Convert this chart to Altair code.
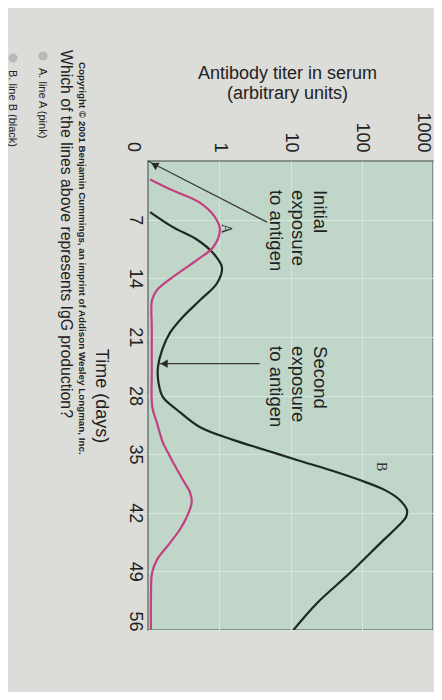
import altair as alt
import pandas as pd

# ---- data (time in days, titer in arbitrary units, log) ----
time_a = [2.2, 3.5, 5.0, 6.7, 8.2, 10.3, 11.8, 13.9, 15.4, 16.6, 20.0, 25.0, 29.4,
          31.3, 33.5, 35.3, 38.1, 39.6, 40.8, 42.5, 44.0, 45.6, 47.6, 49.2, 52.0, 56.0]
titer_a = [0.107, 0.22, 0.54, 0.87, 1.02, 0.82, 0.49, 0.22, 0.134, 0.114, 0.113, 0.113, 0.115,
           0.134, 0.16, 0.204, 0.31, 0.39, 0.41, 0.35, 0.28, 0.204, 0.134, 0.114, 0.11, 0.11]

time_b = [6.1, 7.9, 9.4, 11.0, 12.7, 14.6, 16.6, 18.6, 20.5, 22.6, 24.6, 26.4, 28.2, 29.7,
          31.8, 33.3, 34.5, 35.7, 36.9, 38.1, 39.3, 40.5, 41.7, 42.5, 43.5, 45.3, 49.2, 52.8, 56.0]
titer_b = [0.107, 0.224, 0.49, 0.82, 1.09, 0.93, 0.54, 0.31, 0.204, 0.157, 0.138, 0.14, 0.162, 0.255,
           0.54, 1.56, 4.4, 12.3, 35.8, 94, 212, 344, 431, 418, 333, 200, 68, 23.5, 11]

time_ticks = [7, 14, 21, 28, 35, 42, 49, 56]
titer_ticks = [1, 10, 100, 1000]
origin_label = "0"

labels_ab = ["A", "B"]
label_time = [8.1, 36.5]
label_titer = [1.24, 186]

exposure_text = ["Initial\nexposure\nto antigen", "Second\nexposure\nto antigen"]
exposure_time = [3.46, 22.1]
exposure_titer = [21.4, 21.4]

arrow_time = [7.3, 24.2]
arrow_titer = [4.7, 3.7]
arrow_time_end = [0.0, 24.2]
arrow_titer_end = [0.1, 0.147]

question = "Which of the lines above represents IgG production?"
copyright_txt = "Copyright \u00a9 2001 Benjamin Cummings, an imprint of Addison Wesley Longman, Inc."
option_a = "A. line A (pink)"
option_b = "B. line B (black)"

FONT = "Liberation Sans"
W, H = 285, 469
INK = "#222222"

df_a = pd.DataFrame({"t": time_a, "titer": titer_a})
df_b = pd.DataFrame({"t": time_b, "titer": titer_b})
df_ab = pd.DataFrame({"t": label_time, "titer": label_titer, "label": labels_ab})
df_exp = pd.DataFrame({"t": exposure_time, "titer": exposure_titer, "label": exposure_text})
df_arr = pd.DataFrame({"t": arrow_time, "titer": arrow_titer,
                       "t2": arrow_time_end, "titer2": arrow_titer_end})

xscale = alt.Scale(type="log", domain=[0.1, 1000], nice=False)
yscale = alt.Scale(domain=[0, 56], reverse=True, nice=False, zero=False)

X = alt.X(
    "titer:Q", scale=xscale,
    axis=alt.Axis(
        orient="top", values=titer_ticks,
        labelExpr="format(datum.value, 'd')",
        labelAngle=90, labelAlign="right", labelBaseline="middle",
        labelPadding=9, labelFontSize=18, labelFont=FONT, labelColor=INK,
        labelOffset={"condition": {"test": "datum.value > 500", "value": -11}, "value": 0},
        labelFlush=False, labelOverlap=False, labelBound=False,
        ticks=False, tickSize=0, domain=False,
        grid=True, gridColor="#d5e6db", gridWidth=1,
        title=["Antibody titer in serum", "(arbitrary units)"],
        titleAngle=0, titleX=139, titleY=-83, titleAlign="center",
        titleBaseline="alphabetic", titleLineHeight=20, titleFontSize=18,
        titleFontWeight="normal", titleFont=FONT, titleColor=INK,
    ),
)
Y = alt.Y(
    "t:Q", scale=yscale,
    axis=alt.Axis(
        orient="left", values=time_ticks,
        labelAngle=90, labelAlign="center", labelBaseline="top",
        labelPadding=5, labelFontSize=18, labelFont=FONT, labelColor=INK,
        labelOffset={"condition": {"test": "datum.value > 55", "value": -9}, "value": 0},
        labelFlush=False, labelOverlap=False, labelBound=False,
        ticks=False, tickSize=0, domain=False,
        grid=True, gridColor="#d5e6db", gridWidth=1,
        title="Time (days)", titleAngle=90, titleX=-48, titleY=H / 2,
        titleAlign="center", titleBaseline="middle", titleFontSize=18,
        titleFontWeight="normal", titleFont=FONT, titleColor=INK,
    ),
)

line_b = alt.Chart(df_b).mark_line(
    color="#1f2823", strokeWidth=2.2, interpolate="catmull-rom", clip=True
).encode(x=X, y=Y, order="t:Q")

line_a = alt.Chart(df_a).mark_line(
    color="#c2417e", strokeWidth=2.2, interpolate="catmull-rom", clip=True
).encode(x=X, y=Y, order="t:Q")

arrows = alt.Chart(df_arr).mark_rule(color="#3a3a3a", strokeWidth=1.3).encode(
    x=X, y=Y, x2="titer2:Q", y2="t2:Q"
)

head1 = alt.Chart(pd.DataFrame({"t": [0.45], "titer": [0.123]})).mark_point(
    shape="triangle-up", filled=True, size=70, angle=298, color="#2a2a2a", opacity=1
).encode(x=X, y=Y)

head2 = alt.Chart(pd.DataFrame({"t": [24.2], "titer": [0.168]})).mark_point(
    shape="triangle-left", filled=True, size=70, color="#2a2a2a", opacity=1
).encode(x=X, y=Y)

exp_text = alt.Chart(df_exp).mark_text(
    angle=90, align="left", baseline="alphabetic", lineBreak="\n", lineHeight=22,
    fontSize=18.5, font=FONT, color=INK
).encode(x=X, y=Y, text="label:N")

ab_text = alt.Chart(df_ab).mark_text(
    angle=90, align="center", baseline="middle", fontSize=14,
    font="Liberation Serif", color="#333333"
).encode(x=X, y=Y, text="label:N")


def page_text(txt, px, py, size, weight="normal", font=FONT, align="left"):
    return alt.Chart(pd.DataFrame({"label": [txt]})).mark_text(
        angle=90, align=align, baseline="middle", fontSize=size,
        fontWeight=weight, font=font, color=INK
    ).encode(x=alt.value(px), y=alt.value(py), text="label:N")


def radio(px, py):
    return alt.Chart(pd.DataFrame({"label": ["o"]})).mark_circle(
        size=85, color="#b9b9b9", opacity=1
    ).encode(x=alt.value(px), y=alt.value(py))


zero_txt = page_text(origin_label, -15, -9, 18, align="right")
q_txt = page_text(question, -82, -111, 15.8)
c_txt = page_text(copyright_txt, -66, -99, 9.8, weight="bold")
a_txt = page_text(option_a, -106, -93, 11)
b_txt = page_text(option_b, -136, -91, 11)
r_a = radio(-105, -105)
r_b = radio(-135, -103)

chart = alt.layer(
    line_b, line_a, arrows, head1, head2, exp_text, ab_text,
    zero_txt, q_txt, c_txt, a_txt, b_txt, r_a, r_b
).properties(
    width=W, height=H,
    autosize=alt.AutoSizeParams(type="none"),
    padding={"left": 140, "top": 153, "right": 1, "bottom": 62},
    background="#dcdcd8",
).configure_view(
    fill="#bfd6c9", stroke="#6d7872", strokeWidth=1.5
)

chart.save("out.html", embed_options={"renderer": "svg", "actions": False})
